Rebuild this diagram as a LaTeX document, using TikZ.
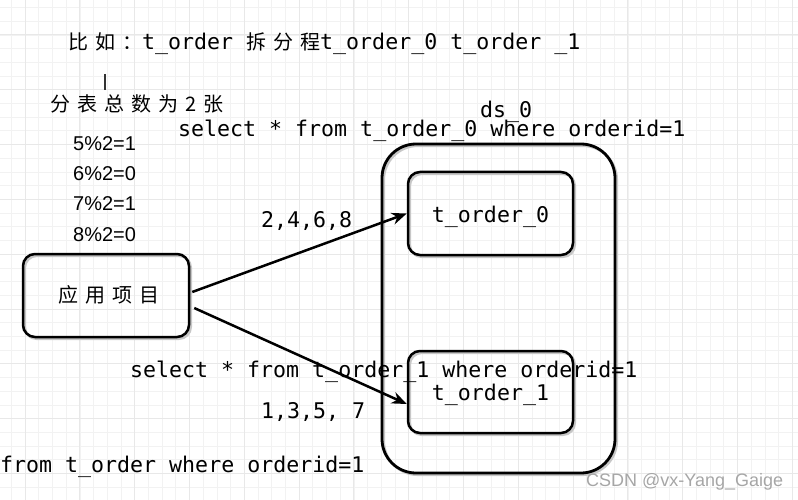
\documentclass[tikz,border=0pt]{standalone}
\usepackage{fontspec}
\setmainfont{DejaVu Sans Mono}
\newfontfamily\cjk[LetterSpace=35]{Noto Sans CJK SC}
\newfontfamily\sansf{Liberation Sans}
\usetikzlibrary{arrows.meta,calc}
\newcommand\cjkset{\cjk\fontsize{20}{24}\selectfont}
\tikzset{
  gridminor/.style={draw=black!5, line width=0.8pt},
  gridmajor/.style={draw=black!9, line width=1pt},
  monotxt/.style={font=\fontsize{21.6}{26}\selectfont, inner sep=0pt, anchor=base west},
  cjktxt/.style={font=\cjkset, inner sep=0pt, anchor=base west},
  pcttxt/.style={font=\sansf\fontsize{20}{24}\selectfont, inner sep=0pt, anchor=base west},
  boxshadow/.style={preaction={draw=black!22, line width=2.5pt, transform canvas={shift={(1.8pt,-1.8pt)}}}},
  tblbox/.style={draw, line width=2.5pt, rounded corners=12pt, boxshadow, inner sep=0pt,
    font=\fontsize{21.6}{26}\selectfont, text height=17pt, text depth=0pt},
  dsbox/.style={draw, line width=2.8pt, rounded corners=34pt, boxshadow, inner sep=0pt},
  flow/.style={line width=2.5pt, -{Stealth[length=15pt,width=12pt]}}
}
\begin{document}
\begin{tikzpicture}[x=1pt,y=-1pt]
\useasboundingbox (0,0) rectangle (798,500);
\clip (0,0) rectangle (798,500);
% background grid
\foreach \k in {-1,...,56} \draw[gridminor] ({25.1+13.7*\k},0) -- ++(0,500);
\foreach \k in {-2,...,34} \draw[gridminor] (0,{35+13.7*\k}) -- ++(798,0);
\foreach \k in {0,...,14} \draw[gridmajor] ({25.1+54.8*\k},0) -- ++(0,500);
\foreach \k in {-1,...,8} \draw[gridmajor] (0,{35+54.8*\k}) -- ++(798,0);

% boxes
\node[dsbox, minimum width=233pt, minimum height=329pt] (ds) at (498.5,308.5) {};
\node[tblbox, minimum width=165pt, minimum height=83pt] (t0) at (490.5,213.5) {t\_order\_0};
\node[tblbox, minimum width=165pt, minimum height=82pt] (t1) at (490.5,392) {t\_order\_1};
\node[tblbox, minimum width=166pt, minimum height=83pt, font=\cjkset, text height=14pt] (app) at (106,295.5) {\hspace*{6pt}应用项目};

% connectors
\draw[flow] ($(app.east)+(2,-3.5)$) -- (t0.west);
\draw[flow] ($(app.east)+(4,12.5)$) -- ($(t1.west)+(0,12)$);

% texts
\node[monotxt] (title) at (68,50) {{\cjkset 比如：}t\_order {\cjkset 拆分程}t\_order\_0 t\_order \_1};
\draw[line width=1.4pt, black!80] (105,74) -- (105,90);
\node[cjktxt] (total) at (50,112) {分表总数为2张};
\node[pcttxt] (p5) at (73,150) {5\%2=1};
\node[pcttxt] (p6) at (73,180) {6\%2=0};
\node[pcttxt] (p7) at (73,211) {7\%2=1};
\node[pcttxt] (p8) at (73,241) {8\%2=0};
\node[monotxt] (dsname) at (480,118) {ds\_0};
\node[monotxt] (sql0) at (178,137) {select * from t\_order\_0 where orderid=1};
\node[monotxt] (even) at (261,227) {2,4,6,8};
\node[monotxt] (sql1) at (130,377) {select * from t\_order\_1 where orderid=1};
\node[monotxt] (odd) at (261,418) {1,3,5, 7};
\node[monotxt] (sqlall) at (0,472) {from t\_order where orderid=1};
\node[font=\sansf\fontsize{18}{22}\selectfont, text=black!35, inner sep=0pt, anchor=base west] (wm) at (586,486) {CSDN @vx-Yang\_Gaige};
\end{tikzpicture}
\end{document}
